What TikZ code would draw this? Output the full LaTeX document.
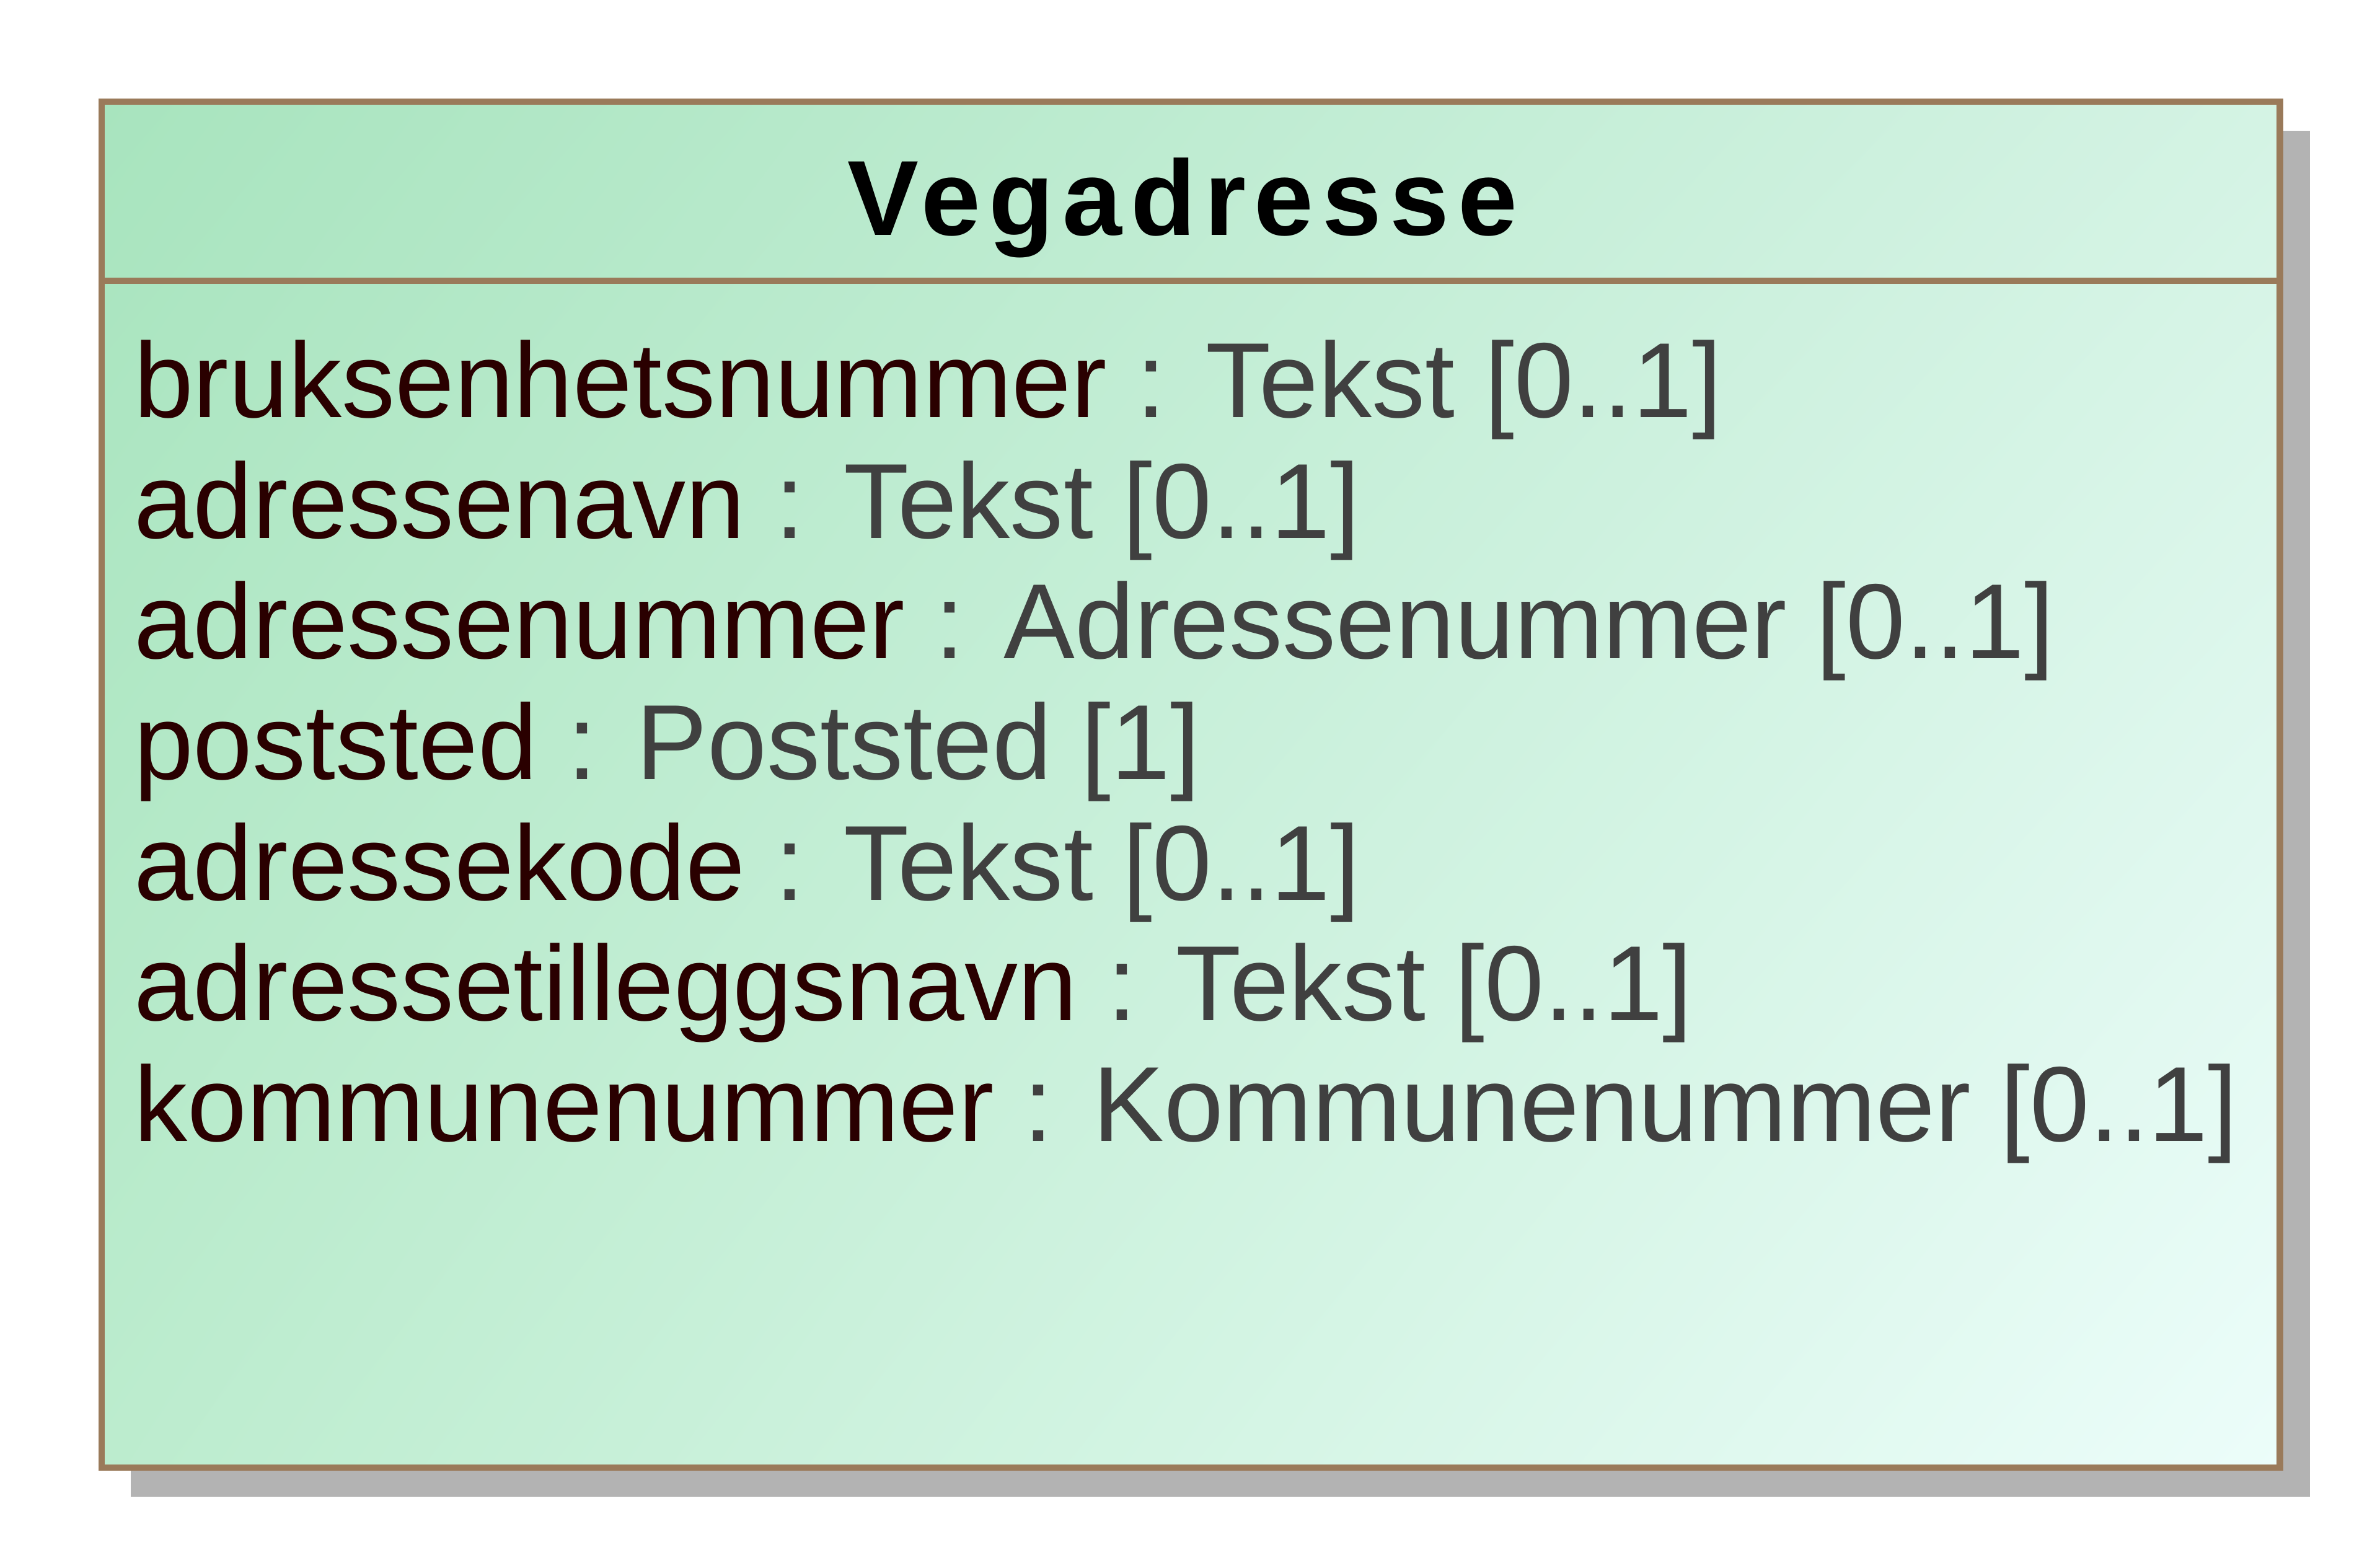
\documentclass[tikz,border=0pt]{standalone}
\usepackage{fontspec}
\setmainfont{Liberation Sans}
\usetikzlibrary{shadings}
\definecolor{boxline}{RGB}{154,122,90}
\definecolor{boxshadow}{RGB}{179,179,179}
\definecolor{namecol}{RGB}{42,0,0}
\definecolor{typecol}{RGB}{64,64,64}
\definecolor{fillA}{RGB}{168,228,190}
\definecolor{fillB}{RGB}{212,243,228}
\definecolor{fillC}{RGB}{188,236,206}
\definecolor{fillD}{RGB}{236,253,250}
\newcommand{\attr}[2]{\textcolor{namecol}{#1} \textcolor{typecol}{: #2}}
\begin{document}
\begin{tikzpicture}[x=0.02449cm, y=-0.02449cm, attr node/.style={anchor=base west,inner sep=0pt,font=\fontsize{49}{56}\selectfont}, title node/.style={anchor=base,inner sep=0pt,font=\fontsize{49}{56}\selectfont\bfseries\addfontfeatures{LetterSpace=8}}]
\useasboundingbox (0,0) rectangle (1568,1033);
% shadow and box
\fill[boxshadow] (86,86) rectangle (1522,986);
\shade[upper left=fillA, upper right=fillB, lower left=fillC, lower right=fillD] (67,67) rectangle (1502,967);
\draw[boxline, line width=3pt] (67,67) rectangle (1502,967);
\draw[boxline, line width=3pt] (67,185) -- (1502,185);
\node [title node](title) at (779,155) {Vegadresse};
\begin{scope}[every node/.style={attr node}]
\node (a1) at (88,275) {\attr{bruksenhetsnummer}{Tekst [0..1]}};
\node (a2) at (88,354.5) {\attr{adressenavn}{Tekst [0..1]}};
\node (a3) at (88,434) {\attr{adressenummer}{Adressenummer [0..1]}};
\node (a4) at (88,513.5) {\attr{poststed}{Poststed [1]}};
\node (a5) at (88,593) {\attr{adressekode}{Tekst [0..1]}};
\node (a6) at (88,672.5) {\attr{adressetilleggsnavn}{Tekst [0..1]}};
\node (a7) at (88,752) {\attr{kommunenummer}{Kommunenummer [0..1]}};
\end{scope}
\end{tikzpicture}
\end{document}
